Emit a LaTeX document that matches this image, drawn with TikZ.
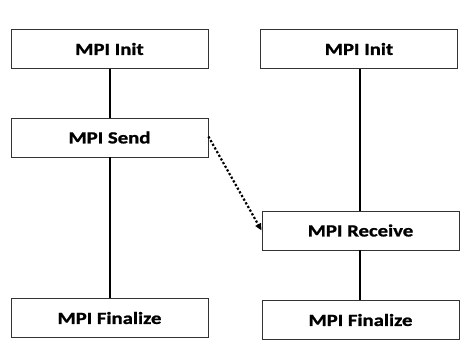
\documentclass[tikz,border=0pt]{standalone}
\usepackage{fontspec}
\setmainfont{Carlito}
\newfontfamily\lblfont[FakeStretch=1.22,BoldFeatures={FakeBold=1.2}]{Carlito}
\usetikzlibrary{arrows.meta}
\begin{document}
\begin{tikzpicture}[x=1pt,y=-1pt,
  box/.style={draw=black!80,line width=0.9pt,fill=white,minimum width=197pt,minimum height=39pt,inner sep=0pt,font=\lblfont\bfseries\fontsize{17}{20}\selectfont},
  link/.style={line width=2.8pt,black},
  msg/.style={line width=2.2pt,dotted,-{Triangle[length=7pt,width=6pt]}}]
\useasboundingbox (0,0) rectangle (474,351);
\node[box] (li) at (109.5,49) {MPI Init};
\node[box] (ls) at (109.5,137.5) {MPI Send};
\node[box] (lf) at (109.5,318) {MPI Finalize};
\node[box] (ri) at (359,49) {MPI Init};
\node[box] (rr) at (360.5,230.5) {MPI Receive};
\node[box] (rf) at (360.5,320) {MPI Finalize};
\draw[link] (li.south -| 110,0) -- (ls.north -| 110,0);
\draw[link] (ls.south -| 110,0) -- (lf.north -| 110,0);
\draw[link] (ri.south -| 360,0) -- (rr.north -| 360,0);
\draw[link] (rr.south -| 360,0) -- (rf.north -| 360,0);
\draw[msg] ([yshift=1pt]ls.north east) ++(0,20) coordinate (s) (s) -- (rr.west);
\end{tikzpicture}
\end{document}
